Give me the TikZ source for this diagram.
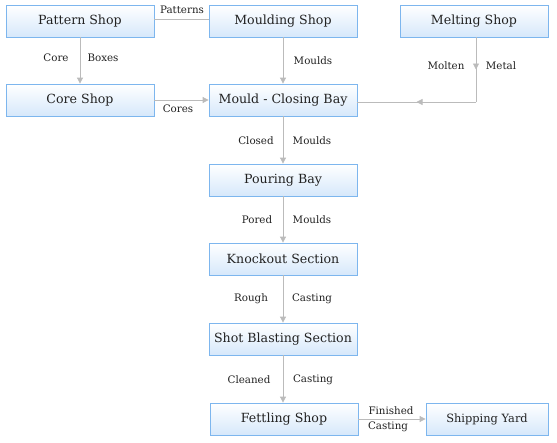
\documentclass[tikz,border=0pt]{standalone}
\usepackage{fontspec}
\setmainfont{DejaVu Serif}
\usetikzlibrary{arrows.meta,decorations.markings}
\definecolor{boxb}{HTML}{7DB6EE}
\definecolor{boxf}{HTML}{D6E8FB}
\definecolor{lin}{HTML}{BBBBBB}
\definecolor{txt}{HTML}{222222}
\tikzset{
  stage/.style={draw=boxb, line width=0.8pt, top color=white, bottom color=boxf,
    minimum width=148pt, minimum height=32pt, inner sep=0pt, text=txt,
    font=\fontsize{12.6}{14}\selectfont},
  lab/.style={text=txt, font=\fontsize{10.3}{12}\selectfont, inner sep=1pt},
  conn/.style={draw=lin, line width=0.8pt},
  tip/.style={-{Triangle[length=6pt,width=6pt]}},
  midtip/.style={postaction={decorate}, decoration={markings,
    mark=at position 0.5 with {\arrow[lin]{Triangle[length=6pt,width=6pt]}}}}
}
\begin{document}
\begin{tikzpicture}[x=1pt,y=-1pt]
\fill[white] (0,0) rectangle (557,442);
\useasboundingbox (0,0) rectangle (557,442);
\node[stage] (pat) at (80,21) {Pattern Shop};
\node[stage] (mld) at (283,21) {Moulding Shop};
\node[stage] (mel) at (474,21) {Melting Shop};
\node[stage] (cor) at (80,100) {Core Shop};
\node[stage] (mcb) at (283,100) {Mould - Closing Bay};
\node[stage] (pou) at (283,180) {Pouring Bay};
\node[stage] (kno) at (283,259) {Knockout Section};
\node[stage] (sho) at (283,339) {Shot Blasting Section};
\node[stage] (fet) at (284,419) {Fettling Shop};
\node[stage, minimum width=122pt, font=\fontsize{11.4}{13}\selectfont] (shi) at (487,419) {Shipping Yard};
\coordinate (pm1) at (154,19);
\coordinate (pm2) at (209,19);
\draw[conn] (pm1) -- (pm2);
\node[lab] (l1) at (182,10) {Patterns};
\draw[conn,tip] (pat) -- (cor);
\node[lab] (l2) at (56,58) {Core};
\node[lab] (l3) at (103,58) {Boxes};
\draw[conn,tip] (cor) -- (mcb);
\node[lab] (l4) at (178,109) {Cores};
\draw[conn,tip] (mld) -- (mcb);
\node[lab] (l5) at (313,61) {Moulds};
\coordinate (mc0) at (476,37);
\coordinate (mc) at (476,102);
\coordinate (mc2) at (357,102);
\draw[conn,midtip] (mc0) -- (mc);
\draw[conn,midtip] (mc) -- (mc2);
\node[lab,fill=white] (l6) at (446,66) {Molten};
\node[lab] (l7) at (501,66) {Metal};
\draw[conn,tip] (mcb) -- (pou);
\node[lab] (l8) at (256,141) {Closed};
\node[lab] (l9) at (312,141) {Moulds};
\draw[conn,tip] (pou) -- (kno);
\node[lab] (l10) at (257,220) {Pored};
\node[lab] (l11) at (312,220) {Moulds};
\draw[conn,tip] (kno) -- (sho);
\node[lab] (l12) at (251,299) {Rough};
\node[lab] (l13) at (312,299) {Casting};
\draw[conn,tip] (sho) -- ([xshift=-1pt]fet.north);
\node[lab] (l14) at (249,380) {Cleaned};
\node[lab] (l15) at (313,380) {Casting};
\draw[conn,tip] (fet) -- (shi);
\node[lab] (l16) at (391,411) {Finished};
\node[lab] (l17) at (388,427) {Casting};
\end{tikzpicture}
\end{document}
